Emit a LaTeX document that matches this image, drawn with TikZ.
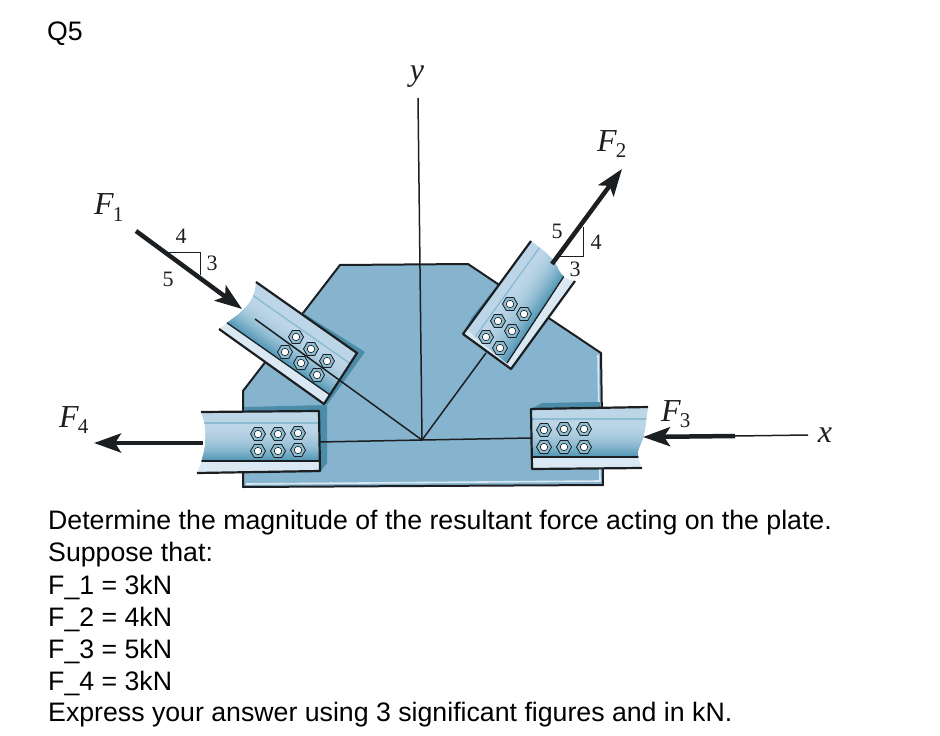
\documentclass[tikz,border=0pt]{standalone}
\usepackage{fontspec}
\setmainfont{Liberation Sans}
\newfontfamily\labelfont{Liberation Serif}
\usetikzlibrary{arrows.meta,shapes.geometric,calc}
\definecolor{platefill}{HTML}{86B4CE}
\definecolor{shadowfill}{HTML}{4C8CA8}
\definecolor{bandlight}{HTML}{BDD6E7}
\definecolor{bandpale}{HTML}{D9E8F2}
\definecolor{bandline}{HTML}{8CBCD2}
\definecolor{webdark}{HTML}{4B93B2}
\definecolor{inkline}{HTML}{1B1F22}
\tikzset{
  plateedge/.style={draw=inkline,line width=2pt,line join=round},
  channeledge/.style={draw=inkline,line width=2.2pt,line join=round},
  axisline/.style={draw=inkline,line width=1.5pt},
  forcearrow/.style={draw=inkline,line width=4.5pt,-{Stealth[length=27pt,width=19pt,inset=6pt]}},
  slopeline/.style={draw=inkline,line width=.8pt},
  boltnut/.style={regular polygon,regular polygon sides=6,minimum size=15pt,inner sep=0pt,
    draw=inkline,line width=.8pt,fill=bandline},
  boltring/.style={circle,minimum size=7.5pt,inner sep=0pt,draw=inkline,line width=.6pt,fill=white},
  forcelabel/.style={font=\labelfont\itshape\fontsize{32}{32}\selectfont,text=inkline,inner sep=0pt},
  sublabel/.style={font=\labelfont\fontsize{21}{21}\selectfont,text=inkline,inner sep=0pt},
  slopelabel/.style={font=\labelfont\fontsize{22}{22}\selectfont,text=inkline,inner sep=0pt},
  bodytext/.style={font=\fontsize{26.7}{26.7}\selectfont,anchor=west,inner sep=0pt,text=black}
}
% gradient across a channel, from edge (#1)-(#2) to edge (#4)-(#3)
\newcommand{\webshade}[4]{
  \foreach \t in {0,5,...,100}{
    \pgfmathtruncatemacro{\mixval}{\t*\t/100}
    \fill[webdark!\mixval!bandlight] ($(#1)!\t/100!(#4)$) -- ($(#2)!\t/100!(#3)$) -- (#3) -- (#4) -- cycle;
  }
}
\begin{document}
\begin{tikzpicture}[x=1pt,y=-1pt]
  \useasboundingbox (0,0) rectangle (940,736);
  % plate
  \fill[platefill] (243,487) -- (243,391) -- (340,265) -- (468,264) -- (601,353) -- (603,485) -- cycle;
  \draw[bandpale,line width=1.6pt] (598,355) -- (600,481) -- (246,484);
  \draw[plateedge] (243,487) -- (243,391) -- (340,265) -- (468,264) -- (601,353) -- (603,485) -- cycle;
  % shadows
  \fill[shadowfill] (303,313) -- (365,352) -- (327,405) -- (290,380) -- cycle;
  \fill[shadowfill] (244,407) -- (327,405) -- (327,463) -- (320,472) -- (244,472) -- cycle;
  \fill[shadowfill] (531,409) -- (542,403) -- (600,402) -- (600,409) -- cycle;
  \fill[shadowfill] (463,334) -- (472,317) -- (498,285) -- (510,300) -- cycle;
  % axes
  \coordinate (origin) at (422,440);
  \coordinate (ytop) at (418,98);
  \coordinate (xend) at (808,435);
  \coordinate (xstart) at (735,436);
  \coordinate (leftend) at (319,442);
  \coordinate (rightend) at (531,438);
  \coordinate (diagright) at (486,353);
  \coordinate (diagleft) at (255,319);
  \draw[axisline] (ytop) -- (origin);
  \draw[axisline] (leftend) -- (origin) -- (rightend);
  \draw[axisline] (origin) -- (diagright);
  \draw[axisline] (xstart) -- (xend);
  % channel F1
  \begin{scope}
    \clip (256,282) -- (357,353) -- (324,404) -- (219,329) .. controls (235,316) and (255,308) .. (256,282) -- cycle;
    \fill[bandpale] (200,260) rectangle (380,420);
    \fill[bandlight] (256,270) -- (370,350) -- (355,367) -- (245,290) -- cycle;
    \webshade{245,290}{355,367}{333,397}{223,320}
    \draw[bandline,line width=1.4pt] (245,290) -- (355,367);
    \draw[inkline,line width=1.3pt] (223,320) -- (333,397);
  \end{scope}
  \draw[channeledge] (256,282) -- (357,353) -- (324,404) -- (219,329);
  \draw[axisline] (diagleft) -- (origin);
  % channel F4
  \begin{scope}
    \clip (201,412) -- (319,411) -- (320,471) -- (197,473) .. controls (205,455) and (210,435) .. (201,412) -- cycle;
    \fill[bandpale] (190,405) rectangle (330,480);
    \fill[bandlight] (190,405) rectangle (330,423);
    \webshade{190,423}{330,423}{330,461}{190,461}
    \draw[bandline,line width=1.4pt] (190,423) -- (330,423);
    \draw[inkline,line width=1.3pt] (190,461) -- (330,461);
  \end{scope}
  \draw[channeledge] (201,412) -- (319,411) -- (320,471) -- (197,473);
  % channel F3
  \begin{scope}
    \clip (531,409) -- (648,407) .. controls (646,420) and (645,430) .. (643,437) .. controls (641,445) and (636,450) .. (638,456) .. controls (639,461) .. (642,468) -- (532,469) -- cycle;
    \fill[bandpale] (525,400) rectangle (655,475);
    \fill[bandlight] (525,400) rectangle (655,419);
    \webshade{525,419}{655,419}{655,457}{525,457}
    \draw[bandline,line width=1.4pt] (525,419) -- (655,419);
    \draw[inkline,line width=1.3pt] (525,457) -- (655,457);
  \end{scope}
  \draw[channeledge] (648,407) -- (531,409) -- (532,469) -- (642,468);
  % channel F2
  \begin{scope}
    \clip (531,241) .. controls (543,250) and (553,258) .. (557,267) .. controls (560,275) and (566,280) .. (575,281) -- (511,369) -- (463,334) -- cycle;
    \fill[bandpale] (450,230) rectangle (590,380);
    \fill[bandlight] (531,235) -- (545,240) -- (475,337) -- (463,325) -- cycle;
    \webshade{545,240}{475,337}{507,363}{570,267}
    \draw[bandline,line width=1.4pt] (545,240) -- (475,337);
    \draw[inkline,line width=1.3pt] (507,363) -- (570,267);
  \end{scope}
  \draw[channeledge] (531,241) -- (463,334) -- (511,369) -- (575,281);
  % bolts
  \foreach \xb/\yb [count=\i] in {296/337,311/349,327/361,285/352,301/363,317/375,
      258/434,278/434,298/433,258/451,278/451,298/450,
      510/304,524/314,498/321,512/331,486/337,500/348,
      544/430,564/429,584/429,544/447,564/447,584/447}{
    \node[boltnut] (nut\i) at (\xb,\yb) {};
    \node[boltring] (hole\i) at (\xb,\yb) {};
  }
  % forces
  \coordinate (f1tail) at (136,231);
  \coordinate (f1tip) at (242,309);
  \coordinate (f2tail) at (552,264);
  \coordinate (f2tip) at (622,169);
  \coordinate (f3tip) at (643,437);
  \coordinate (f4tail) at (203,443);
  \coordinate (f4tip) at (94,443);
  \draw[forcearrow] (f1tail) -- (f1tip);
  \draw[forcearrow] (f2tail) -- (f2tip);
  \draw[forcearrow] (xstart) -- (f3tip);
  \draw[forcearrow] (f4tail) -- (f4tip);
  % slope triangles
  \coordinate (tria) at (167,252);
  \coordinate (trib) at (200,252);
  \coordinate (tric) at (200,275);
  \coordinate (trid) at (557,256);
  \coordinate (trie) at (583,256);
  \coordinate (trif) at (583,227);
  \draw[slopeline] (tria) -- (trib) -- (tric);
  \draw[slopeline] (trid) -- (trie) -- (trif);
  % labels
  \node[forcelabel] (lf1) at (104,204) {F};
  \node[sublabel] (sf1) at (118,215) {1};
  \node[forcelabel] (lf2) at (607,141) {F};
  \node[sublabel] (sf2) at (621,151) {2};
  \node[forcelabel] (lf3) at (671,411) {F};
  \node[sublabel] (sf3) at (685,421) {3};
  \node[forcelabel] (lf4) at (69,417) {F};
  \node[sublabel] (sf4) at (83,427) {4};
  \node[forcelabel] (ly) at (417,77) {y};
  \node[forcelabel] (lx) at (825,435) {x};
  \node[slopelabel] (na) at (181,236) {4};
  \node[slopelabel] (nb) at (212,263) {3};
  \node[slopelabel] (nc) at (168,279) {5};
  \node[slopelabel] (nd) at (557,231) {5};
  \node[slopelabel] (ne) at (596,242) {4};
  \node[slopelabel] (nf) at (575,269) {3};
  % question text
  \node[bodytext] (qnum) at (47,34) {Q5};
  \node[bodytext] (lineone) at (48,523) {Determine the magnitude of the resultant force acting on the plate.};
  \node[bodytext] (linetwo) at (48,555) {Suppose that:};
  \node[bodytext] (linethree) at (48,587) {F\_1 = 3kN};
  \node[bodytext] (linefour) at (48,619) {F\_2 = 4kN};
  \node[bodytext] (linefive) at (48,651) {F\_3 = 5kN};
  \node[bodytext] (linesix) at (48,683) {F\_4 = 3kN};
  \node[bodytext] (lineseven) at (48,715) {Express your answer using 3 significant figures and in kN.};
\end{tikzpicture}
\end{document}
